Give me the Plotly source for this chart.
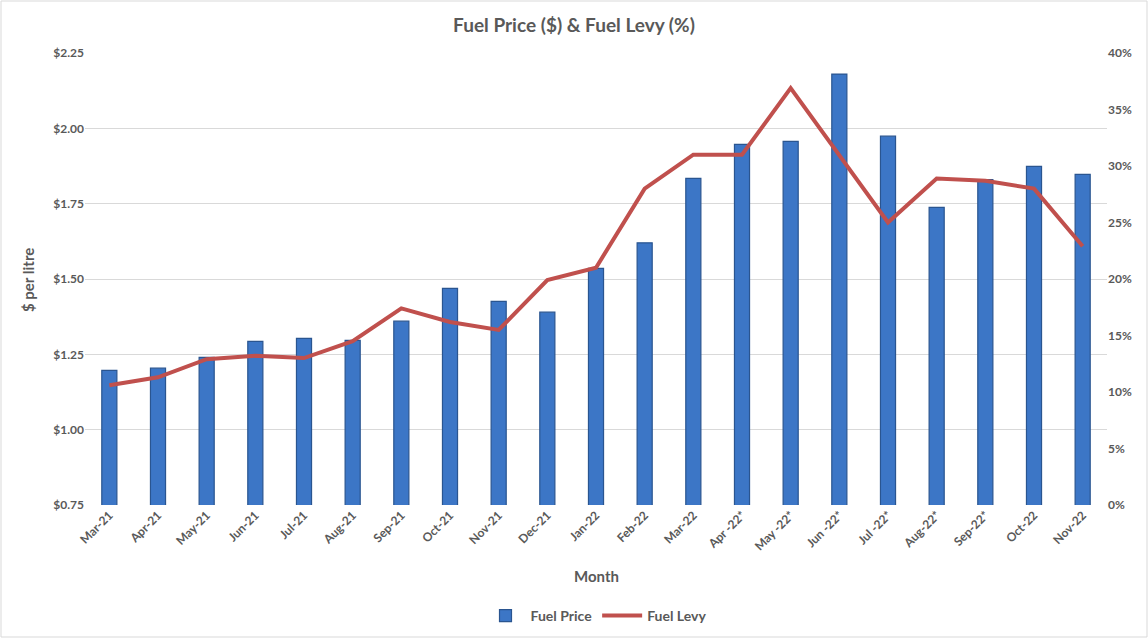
import plotly.graph_objects as go

months = ["Mar-21", "Apr-21", "May-21", "Jun-21", "Jul-21", "Aug-21", "Sep-21", "Oct-21",
          "Nov-21", "Dec-21", "Jan-22", "Feb-22", "Mar-22", "Apr -22*", "May -22*", "Jun -22*",
          "Jul -22*", "Aug-22*", "Sep-22*", "Oct-22", "Nov-22"]
fuel_price = [1.197, 1.204, 1.24, 1.293, 1.303, 1.296, 1.36, 1.469, 1.426, 1.39, 1.535,
              1.62, 1.834, 1.947, 1.957, 2.18, 1.974, 1.738, 1.83, 1.874, 1.847]
fuel_levy = [0.106, 0.113, 0.129, 0.132, 0.130, 0.145, 0.174, 0.162, 0.155, 0.199, 0.210,
             0.280, 0.310, 0.310, 0.369, 0.309, 0.250, 0.289, 0.287, 0.280, 0.229]
price_ticks = [0.75, 1.00, 1.25, 1.50, 1.75, 2.00, 2.25]
levy_ticks = [0, 0.05, 0.10, 0.15, 0.20, 0.25, 0.30, 0.35, 0.40]

FONT = "Lato"
TXT = "#595959"

fig = go.Figure()
fig.add_trace(go.Bar(
    x=months, y=fuel_price, name="<b>Fuel Price</b>",
    marker=dict(color="#3C76C6", line=dict(color="#2A5590", width=1.2)),
    yaxis="y",
))
fig.add_trace(go.Scatter(
    x=months, y=fuel_levy, name="<b>Fuel Levy</b>", mode="lines",
    line=dict(color="#C0504D", width=4),
    yaxis="y2",
))

fig.update_layout(
    width=1148, height=638,
    paper_bgcolor="white", plot_bgcolor="white",
    margin=dict(l=85, r=41, t=53, b=133, autoexpand=False),
    font=dict(family=FONT, color=TXT, size=12),
    title=dict(text="<b>Fuel Price ($) & Fuel Levy (%)</b>", x=0.5, xanchor="center",
               y=1 - 25 / 638, yanchor="middle", font=dict(size=19, color=TXT, family=FONT)),
    bargap=0.69,
    showlegend=True,
    legend=dict(orientation="h", x=0.5, xanchor="center", yref="container",
                y=(638 - 616) / 638, yanchor="middle",
                font=dict(size=14, color=TXT, family=FONT), traceorder="normal",
                itemwidth=40),
    xaxis=dict(tickangle=-45, showgrid=False, showline=False, ticks="", automargin=False,
               tickvals=months, ticktext=["<b>%s</b>" % m for m in months],
               tickfont=dict(size=12, color=TXT, family=FONT)),
    yaxis=dict(range=[0.75, 2.25], tickvals=price_ticks, automargin=False,
               ticktext=["<b>$%.2f</b>" % v for v in price_ticks],
               showgrid=True, gridcolor="#D9D9D9", gridwidth=1, zeroline=False,
               showline=False, ticks="", tickfont=dict(size=12, color=TXT)),
    yaxis2=dict(range=[0, 0.40], tickvals=levy_ticks, automargin=False,
                ticktext=["<b>%d%%</b>" % round(v * 100) for v in levy_ticks],
                overlaying="y", side="right", showgrid=False, zeroline=False,
                showline=False, ticks="", tickfont=dict(size=12, color=TXT)),
)

fig.add_annotation(text="<b>Month</b>", xref="paper", yref="paper", x=0.5, y=(505 - 576) / 452,
                   showarrow=False, font=dict(size=15, color=TXT, family=FONT),
                   xanchor="center", yanchor="middle")
fig.add_annotation(text="<b>$ per litre</b>", xref="paper", yref="paper", x=(28 - 85) / 1022,
                   y=(505 - 280) / 452, showarrow=False, textangle=-90,
                   font=dict(size=15, color=TXT, family=FONT),
                   xanchor="center", yanchor="middle")
fig.add_shape(type="rect", xref="paper", yref="paper",
              x0=-84 / 1022, x1=1 + 40 / 1022, y0=-132 / 452, y1=1 + 52 / 452,
              line=dict(color="#D9D9D9", width=1), fillcolor="rgba(0,0,0,0)", layer="below")

post = (
    "document.documentElement.style.margin='0';"
    "document.documentElement.style.overflow='hidden';"
    "document.body.style.margin='0';"
    "document.body.style.overflow='hidden';"
    "var g=document.getElementById('{plot_id}');"
    "var p=g.parentElement; p.style.height='638px'; p.style.overflow='hidden';"
    "p.style.lineHeight='0'; p.style.fontSize='0';"
    "g.style.display='block';"
)
fig.write_html("out.html", post_script=post, config={"displayModeBar": False})
